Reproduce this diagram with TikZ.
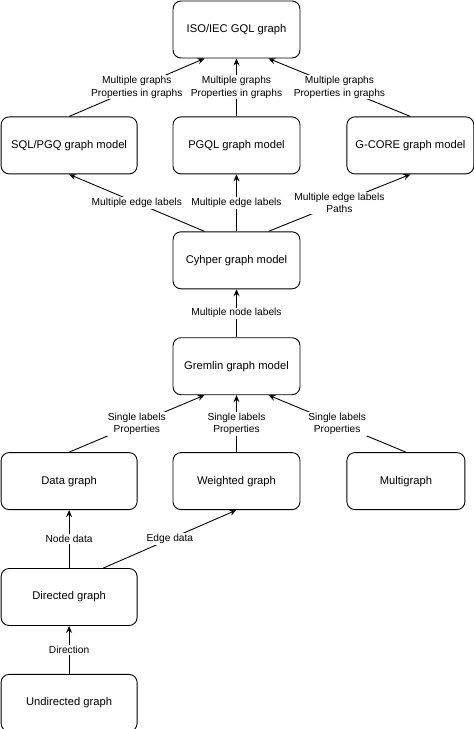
\documentclass[tikz,border=0pt]{standalone}
\usepackage{fontspec}
\setmainfont{Liberation Sans}
\usepackage{tikz}
\usetikzlibrary{arrows.meta,positioning,calc}

\begin{document}
\begin{tikzpicture}[
    x=1pt, y=1pt,
    model/.style={draw, rectangle, rounded corners=8pt, line width=0.9pt, minimum width=127pt, minimum height=57pt, inner sep=0pt, align=center, font=\fontsize{11.2}{13.5}\selectfont},
    wide/.style={minimum width=136pt},
    narrow/.style={minimum width=118pt},
    link/.style={-{Stealth[length=7pt,width=6pt,inset=2.5pt]}, line width=0.9pt},
    tag/.style={fill=white, inner sep=1pt, align=center, font=\fontsize{10.2}{12.5}\selectfont}
]
    \useasboundingbox (0,0) rectangle (474,-729);

    \node[model] (iso) at (236.5,-29.5) {ISO/IEC GQL graph};

    \node[model, below=58pt of iso] (pgql) {PGQL graph model};
    \node[model, wide, left=35pt of pgql] (sqlpgq) {SQL/PGQ graph model};
    \node[model, right=46pt of pgql] (gcore) {G-CORE graph model};

    \node[model, below=57pt of pgql] (cypher) {Cyhper graph model};
    \node[model, below=48pt of cypher] (gremlin) {Gremlin graph model};

    \node[model, below=57pt of gremlin] (weighted) {Weighted graph};
    \node[model, wide, left=35pt of weighted] (data) {Data graph};
    \node[model, narrow, right=46pt of weighted] (multi) {Multigraph};

    \node[model, wide, below=58pt of data] (directed) {Directed graph};
    \node[model, wide, below=48pt of directed] (undirected) {Undirected graph};

    % top level
    \draw[link] (sqlpgq.north) -- node[tag] {Multiple graphs\\Properties in graphs} ($(iso.south west)!0.25!(iso.south east)$);
    \draw[link] (pgql) -- node[tag] {Multiple graphs\\Properties in graphs} (iso);
    \draw[link] (gcore.north) -- node[tag] {Multiple graphs\\Properties in graphs} ($(iso.south west)!0.75!(iso.south east)$);

    % query languages
    \draw[link] ($(cypher.north west)!0.25!(cypher.north east)$) -- node[tag] {Multiple edge labels} (sqlpgq.south);
    \draw[link] (cypher) -- node[tag] {Multiple edge labels} (pgql);
    \draw[link] ($(cypher.north west)!0.75!(cypher.north east)$) -- node[tag] {Multiple edge labels\\Paths} (gcore.south);

    \draw[link] (gremlin) -- node[tag] {Multiple node labels} (cypher);

    % graph types
    \draw[link] (data.north) -- node[tag] {Single labels\\Properties} ($(gremlin.south west)!0.25!(gremlin.south east)$);
    \draw[link] (weighted) -- node[tag] {Single labels\\Properties} (gremlin);
    \draw[link] (multi.north) -- node[tag] {Single labels\\Properties} ($(gremlin.south west)!0.75!(gremlin.south east)$);

    \draw[link] (directed) -- node[tag] {Node data} (data);
    \draw[link] ($(directed.north west)!0.75!(directed.north east)$) -- node[tag] {Edge data} (weighted.south);
    \draw[link] (undirected) -- node[tag] {Direction} (directed);
\end{tikzpicture}
\end{document}
